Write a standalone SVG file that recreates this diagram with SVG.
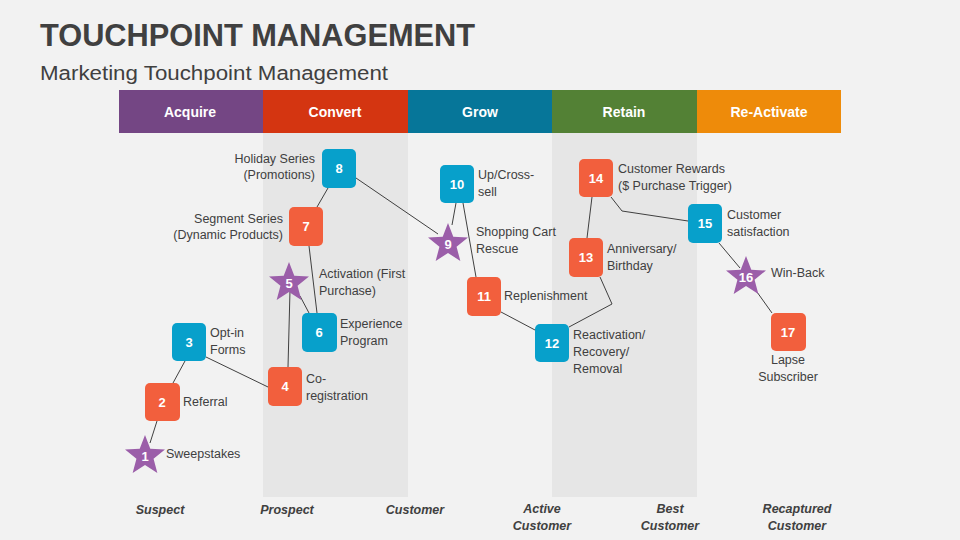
<svg xmlns="http://www.w3.org/2000/svg" xmlns:xlink="http://www.w3.org/1999/xlink" width="960" height="540" viewBox="0 0 960 540">
<defs>
<style>
.t{font-family:"Liberation Sans",Arial,sans-serif;fill:#404040;font-size:12.5px}
.r{text-anchor:end}
.m{text-anchor:middle}
.hd{font-family:"Liberation Sans",Arial,sans-serif;fill:#fff;font-size:14px;font-weight:bold;text-anchor:middle}
.n{font-family:"Liberation Sans",Arial,sans-serif;fill:#fff;font-size:13px;font-weight:bold;text-anchor:middle}
.b{font-family:"Liberation Sans",Arial,sans-serif;fill:#404040;font-size:12.5px;font-weight:bold;font-style:italic;text-anchor:middle}
.blue{fill:#07a0cb}
.red{fill:#f25f3d}
.star{fill:#9b5ea9}
.c{stroke:#404040;stroke-width:1;fill:none}
</style>
<path id="st" d="M0,-21 L5.29,-7.28 L19.97,-6.49 L8.56,2.78 L12.34,16.99 L0,9 L-12.34,16.99 L-8.56,2.78 L-19.97,-6.49 L-5.29,-7.28 Z"/>
</defs>
<rect width="960" height="540" fill="#f2f2f2"/>
<rect x="263" y="133" width="145" height="364" fill="#e6e6e6"/>
<rect x="552" y="133" width="145" height="364" fill="#e6e6e6"/>
<text x="40" y="46" font-family="Liberation Sans,Arial,sans-serif" font-size="31" font-weight="bold" fill="#404040" textLength="435" lengthAdjust="spacingAndGlyphs">TOUCHPOINT MANAGEMENT</text>
<text x="40" y="80" font-family="Liberation Sans,Arial,sans-serif" font-size="20" fill="#404040" textLength="348" lengthAdjust="spacingAndGlyphs">Marketing Touchpoint Management</text>
<g id="header">
<rect x="119" y="90" width="145" height="43" fill="#744684"/>
<rect x="263" y="90" width="145" height="43" fill="#d43511"/>
<rect x="408" y="90" width="144" height="43" fill="#067699"/>
<rect x="552" y="90" width="145" height="43" fill="#538135"/>
<rect x="697" y="90" width="144" height="43" fill="#ee8b0a"/>
<text class="hd" x="190" y="117">Acquire</text>
<text class="hd" x="335" y="117">Convert</text>
<text class="hd" x="480" y="117">Grow</text>
<text class="hd" x="624" y="117">Retain</text>
<text class="hd" x="769" y="117">Re-Activate</text>
</g>
<g id="connectors">
<line class="c" x1="150" y1="443" x2="157" y2="421"/>
<line class="c" x1="173" y1="383" x2="185" y2="361"/>
<line class="c" x1="206" y1="357" x2="268" y2="387"/>
<line class="c" x1="288" y1="367" x2="290" y2="290"/>
<line class="c" x1="300" y1="296" x2="309" y2="313"/>
<line class="c" x1="317" y1="313" x2="309" y2="246"/>
<line class="c" x1="317" y1="207" x2="328" y2="188"/>
<line class="c" x1="356" y1="178" x2="438" y2="234"/>
<line class="c" x1="452" y1="225" x2="456" y2="203"/>
<line class="c" x1="463" y1="203" x2="476" y2="277"/>
<line class="c" x1="501" y1="312" x2="535" y2="330"/>
<polyline class="c" points="569,327 612,304 600,277"/>
<line class="c" x1="587" y1="238" x2="592" y2="197"/>
<polyline class="c" points="611,197 622,211 688,221"/>
<line class="c" x1="719" y1="243" x2="740" y2="268"/>
<line class="c" x1="757" y1="292" x2="772" y2="313"/>
</g>
<g id="node1"><use xlink:href="#st" class="star" x="145" y="456"/><text class="n" x="145" y="461">1</text><text class="t" x="166" y="458">Sweepstakes</text></g>
<g id="node2"><rect class="red" x="145" y="383" width="35" height="38" rx="5"/><text class="n" x="162" y="407">2</text><text class="t" x="183" y="406">Referral</text></g>
<g id="node3"><rect class="blue" x="172" y="323" width="34" height="38" rx="5"/><text class="n" x="189" y="347">3</text><text class="t" x="210" y="337">Opt-in</text><text class="t" x="210" y="354">Forms</text></g>
<g id="node4"><rect class="red" x="268" y="367" width="34" height="39" rx="5"/><text class="n" x="285" y="391">4</text><text class="t" x="306" y="383">Co-</text><text class="t" x="306" y="400">registration</text></g>
<g id="node5"><use xlink:href="#st" class="star" x="289" y="283"/><text class="n" x="289" y="288">5</text><text class="t" x="319" y="278">Activation (First</text><text class="t" x="319" y="295">Purchase)</text></g>
<g id="node6"><rect class="blue" x="302" y="313" width="35" height="39" rx="5"/><text class="n" x="319" y="337">6</text><text class="t" x="340" y="328">Experience</text><text class="t" x="340" y="345">Program</text></g>
<g id="node7"><rect class="red" x="289" y="207" width="34" height="39" rx="5"/><text class="n" x="306" y="231">7</text><text class="t r" x="283" y="223">Segment Series</text><text class="t r" x="283" y="239">(Dynamic Products)</text></g>
<g id="node8"><rect class="blue" x="322" y="149" width="34" height="39" rx="5"/><text class="n" x="339" y="173">8</text><text class="t r" x="315" y="163">Holiday Series</text><text class="t r" x="315" y="179">(Promotions)</text></g>
<g id="node9"><use xlink:href="#st" class="star" x="448" y="244"/><text class="n" x="448" y="249">9</text><text class="t" x="476" y="236">Shopping Cart</text><text class="t" x="476" y="253">Rescue</text></g>
<g id="node10"><rect class="blue" x="440" y="165" width="34" height="38" rx="5"/><text class="n" x="457" y="189">10</text><text class="t" x="478" y="179">Up/Cross-</text><text class="t" x="478" y="196">sell</text></g>
<g id="node11"><rect class="red" x="467" y="277" width="34" height="39" rx="5"/><text class="n" x="484" y="301">11</text><text class="t" x="504" y="300">Replenishment</text></g>
<g id="node12"><rect class="blue" x="535" y="324" width="34" height="38" rx="5"/><text class="n" x="552" y="348">12</text><text class="t" x="573" y="339">Reactivation/</text><text class="t" x="573" y="356">Recovery/</text><text class="t" x="573" y="373">Removal</text></g>
<g id="node13"><rect class="red" x="569" y="238" width="34" height="39" rx="5"/><text class="n" x="586" y="262">13</text><text class="t" x="607" y="253">Anniversary/</text><text class="t" x="607" y="270">Birthday</text></g>
<g id="node14"><rect class="red" x="579" y="159" width="34" height="38" rx="5"/><text class="n" x="596" y="183">14</text><text class="t" x="618" y="173">Customer Rewards</text><text class="t" x="618" y="190">($ Purchase Trigger)</text></g>
<g id="node15"><rect class="blue" x="688" y="204" width="34" height="39" rx="5"/><text class="n" x="705" y="228">15</text><text class="t" x="727" y="219">Customer</text><text class="t" x="727" y="236">satisfaction</text></g>
<g id="node16"><use xlink:href="#st" class="star" x="746" y="277"/><text class="n" x="746" y="282">16</text><text class="t" x="771" y="277">Win-Back</text></g>
<g id="node17"><rect class="red" x="771" y="313" width="35" height="38" rx="5"/><text class="n" x="788" y="337">17</text><text class="t m" x="788" y="364">Lapse</text><text class="t m" x="788" y="381">Subscriber</text></g>
<g id="stages">
<text class="b" x="160" y="514">Suspect</text>
<text class="b" x="287" y="514">Prospect</text>
<text class="b" x="415" y="514">Customer</text>
<text class="b" x="542" y="513">Active</text>
<text class="b" x="542" y="530">Customer</text>
<text class="b" x="670" y="513">Best</text>
<text class="b" x="670" y="530">Customer</text>
<text class="b" x="797" y="513">Recaptured</text>
<text class="b" x="797" y="530">Customer</text>
</g>
</svg>
